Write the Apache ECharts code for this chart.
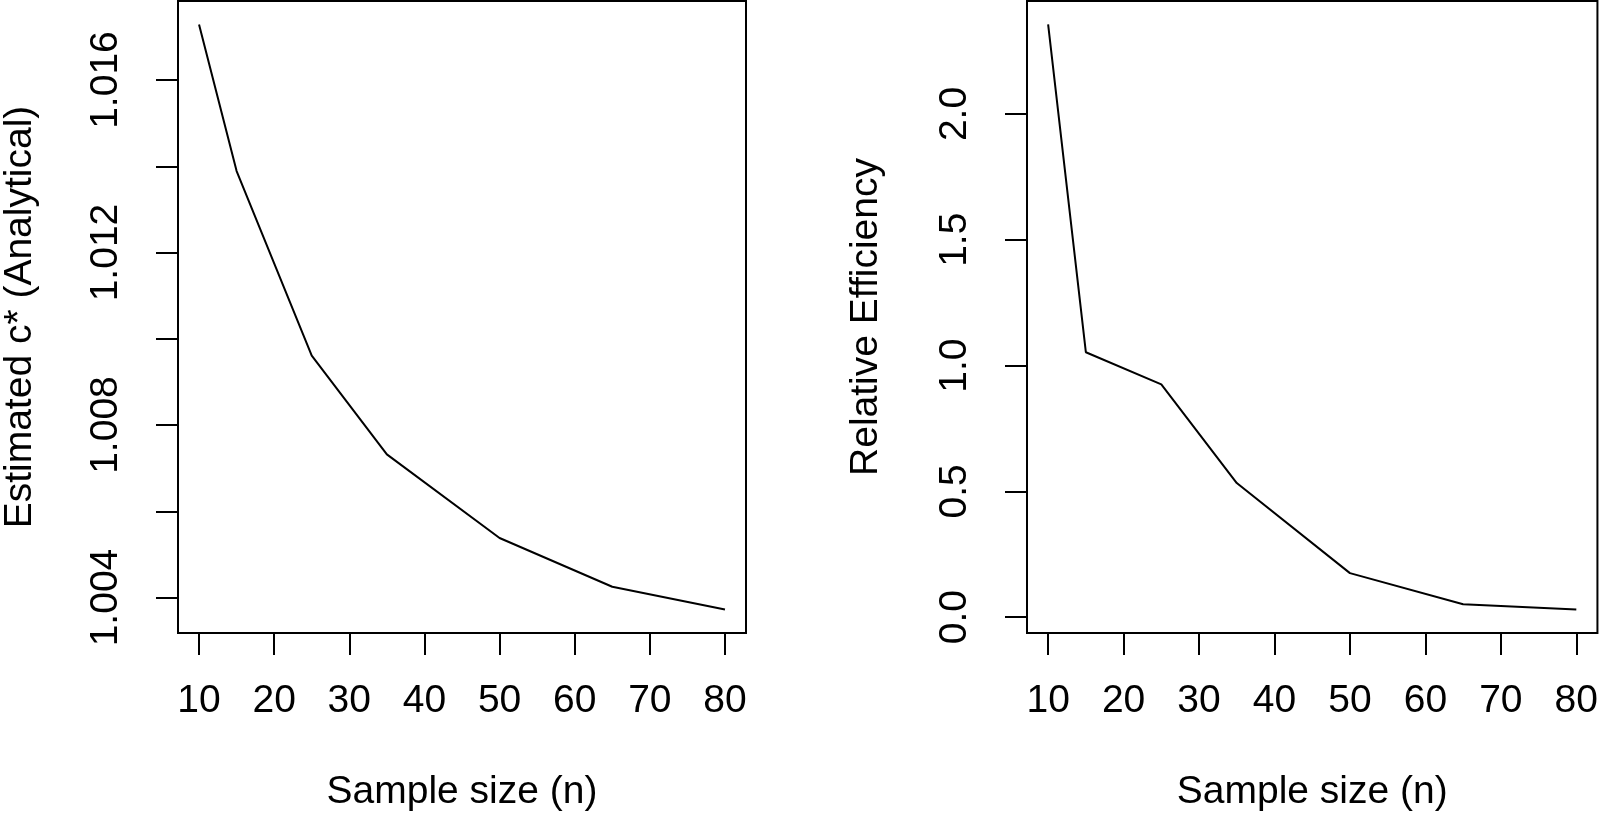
<!DOCTYPE html>
<html>
<head>
<meta charset="utf-8">
<title>c* and relative efficiency by sample size</title>
<script src="https://cdn.jsdelivr.net/npm/echarts@6.0.0/dist/echarts.min.js"></script>
<style>
  html, body { margin: 0; padding: 0; background: #fff; }
  #chart { width: 1601px; height: 817px; }
</style>
</head>
<body>
<div id="chart"></div>
<script>
// sample sizes (x for both panels)
const sampleSizes = [10, 15, 25, 35, 50, 65, 80]
// left panel: estimated c* (analytical)
const cStar = [1.01729, 1.01389, 1.00961, 1.00732, 1.00538, 1.00425, 1.00372]
// right panel: relative efficiency
const relEff = [2.356, 1.053, 0.925, 0.533, 0.175, 0.051, 0.030]

const xTicks = [10, 20, 30, 40, 50, 60, 70, 80]
const cStarTicks = [1.004, 1.006, 1.008, 1.010, 1.012, 1.014, 1.016]
const cStarLabels = [1.004, 1.008, 1.012, 1.016]
const relEffTicks = [0.0, 0.5, 1.0, 1.5, 2.0]

const FONT = "'Liberation Sans', Arial, Helvetica, sans-serif"

// R style: axis range = data range +/- 4%
const pad = (arr) => {
  const lo = Math.min(...arr)
  const hi = Math.max(...arr)
  const d = (hi - lo) * 0.04
  return [lo - d, hi + d]
}

const xRange = pad(sampleSizes)
const cRange = pad(cStar)
const rRange = pad(relEff)

const tickStyle = { show: true, length: 22, lineStyle: { color: '#000', width: 2 } }

const xAxisFor = (gridIndex) => ({
  type: 'value',
  gridIndex,
  min: xRange[0],
  max: xRange[1],
  name: 'Sample size (n)',
  nameLocation: 'middle',
  nameGap: 140,
  nameTextStyle: { color: '#000', fontSize: 39, fontFamily: FONT },
  axisLine: { show: false, onZero: false },
  splitLine: { show: false },
  axisTick: { ...tickStyle, customValues: xTicks },
  axisLabel: {
    customValues: xTicks,
    color: '#000',
    fontSize: 39,
    fontFamily: FONT,
    margin: 49,
  },
})

const chart = echarts.init(document.getElementById('chart'))

chart.setOption({
  animation: false,
  backgroundColor: '#fff',
  grid: [
    { left: 172, top: 1, width: 574, height: 634, show: true, borderColor: '#000', borderWidth: 2 },
    { left: 1027, top: 1, width: 571, height: 634, show: true, borderColor: '#000', borderWidth: 2 },
  ],
  xAxis: [xAxisFor(0), xAxisFor(1)],
  yAxis: [
    {
      type: 'value',
      gridIndex: 0,
      min: cRange[0],
      max: cRange[1],
      name: 'Estimated c* (Analytical)',
      nameLocation: 'middle',
      nameGap: 138,
      nameTextStyle: { color: '#000', fontSize: 39, fontFamily: FONT },
      axisLine: { show: false, onZero: false },
      splitLine: { show: false },
      axisTick: { ...tickStyle, customValues: cStarTicks },
      axisLabel: {
        customValues: cStarLabels,
        rotate: 90,
        color: '#000',
        fontSize: 39,
        fontFamily: FONT,
        margin: 52,
        formatter: (v) => v.toFixed(3),
      },
    },
    {
      type: 'value',
      gridIndex: 1,
      min: rRange[0],
      max: rRange[1],
      name: 'Relative Efficiency',
      nameLocation: 'middle',
      nameGap: 141,
      nameTextStyle: { color: '#000', fontSize: 39, fontFamily: FONT },
      axisLine: { show: false, onZero: false },
      splitLine: { show: false },
      axisTick: { ...tickStyle, customValues: relEffTicks },
      axisLabel: {
        customValues: relEffTicks,
        rotate: 90,
        color: '#000',
        fontSize: 39,
        fontFamily: FONT,
        margin: 52,
        formatter: (v) => v.toFixed(1),
      },
    },
  ],
  series: [
    {
      type: 'line',
      xAxisIndex: 0,
      yAxisIndex: 0,
      data: sampleSizes.map((n, i) => [n, cStar[i]]),
      showSymbol: false,
      lineStyle: { color: '#000', width: 2 },
    },
    {
      type: 'line',
      xAxisIndex: 1,
      yAxisIndex: 1,
      data: sampleSizes.map((n, i) => [n, relEff[i]]),
      showSymbol: false,
      lineStyle: { color: '#000', width: 2 },
    },
  ],
})
</script>
</body>
</html>
